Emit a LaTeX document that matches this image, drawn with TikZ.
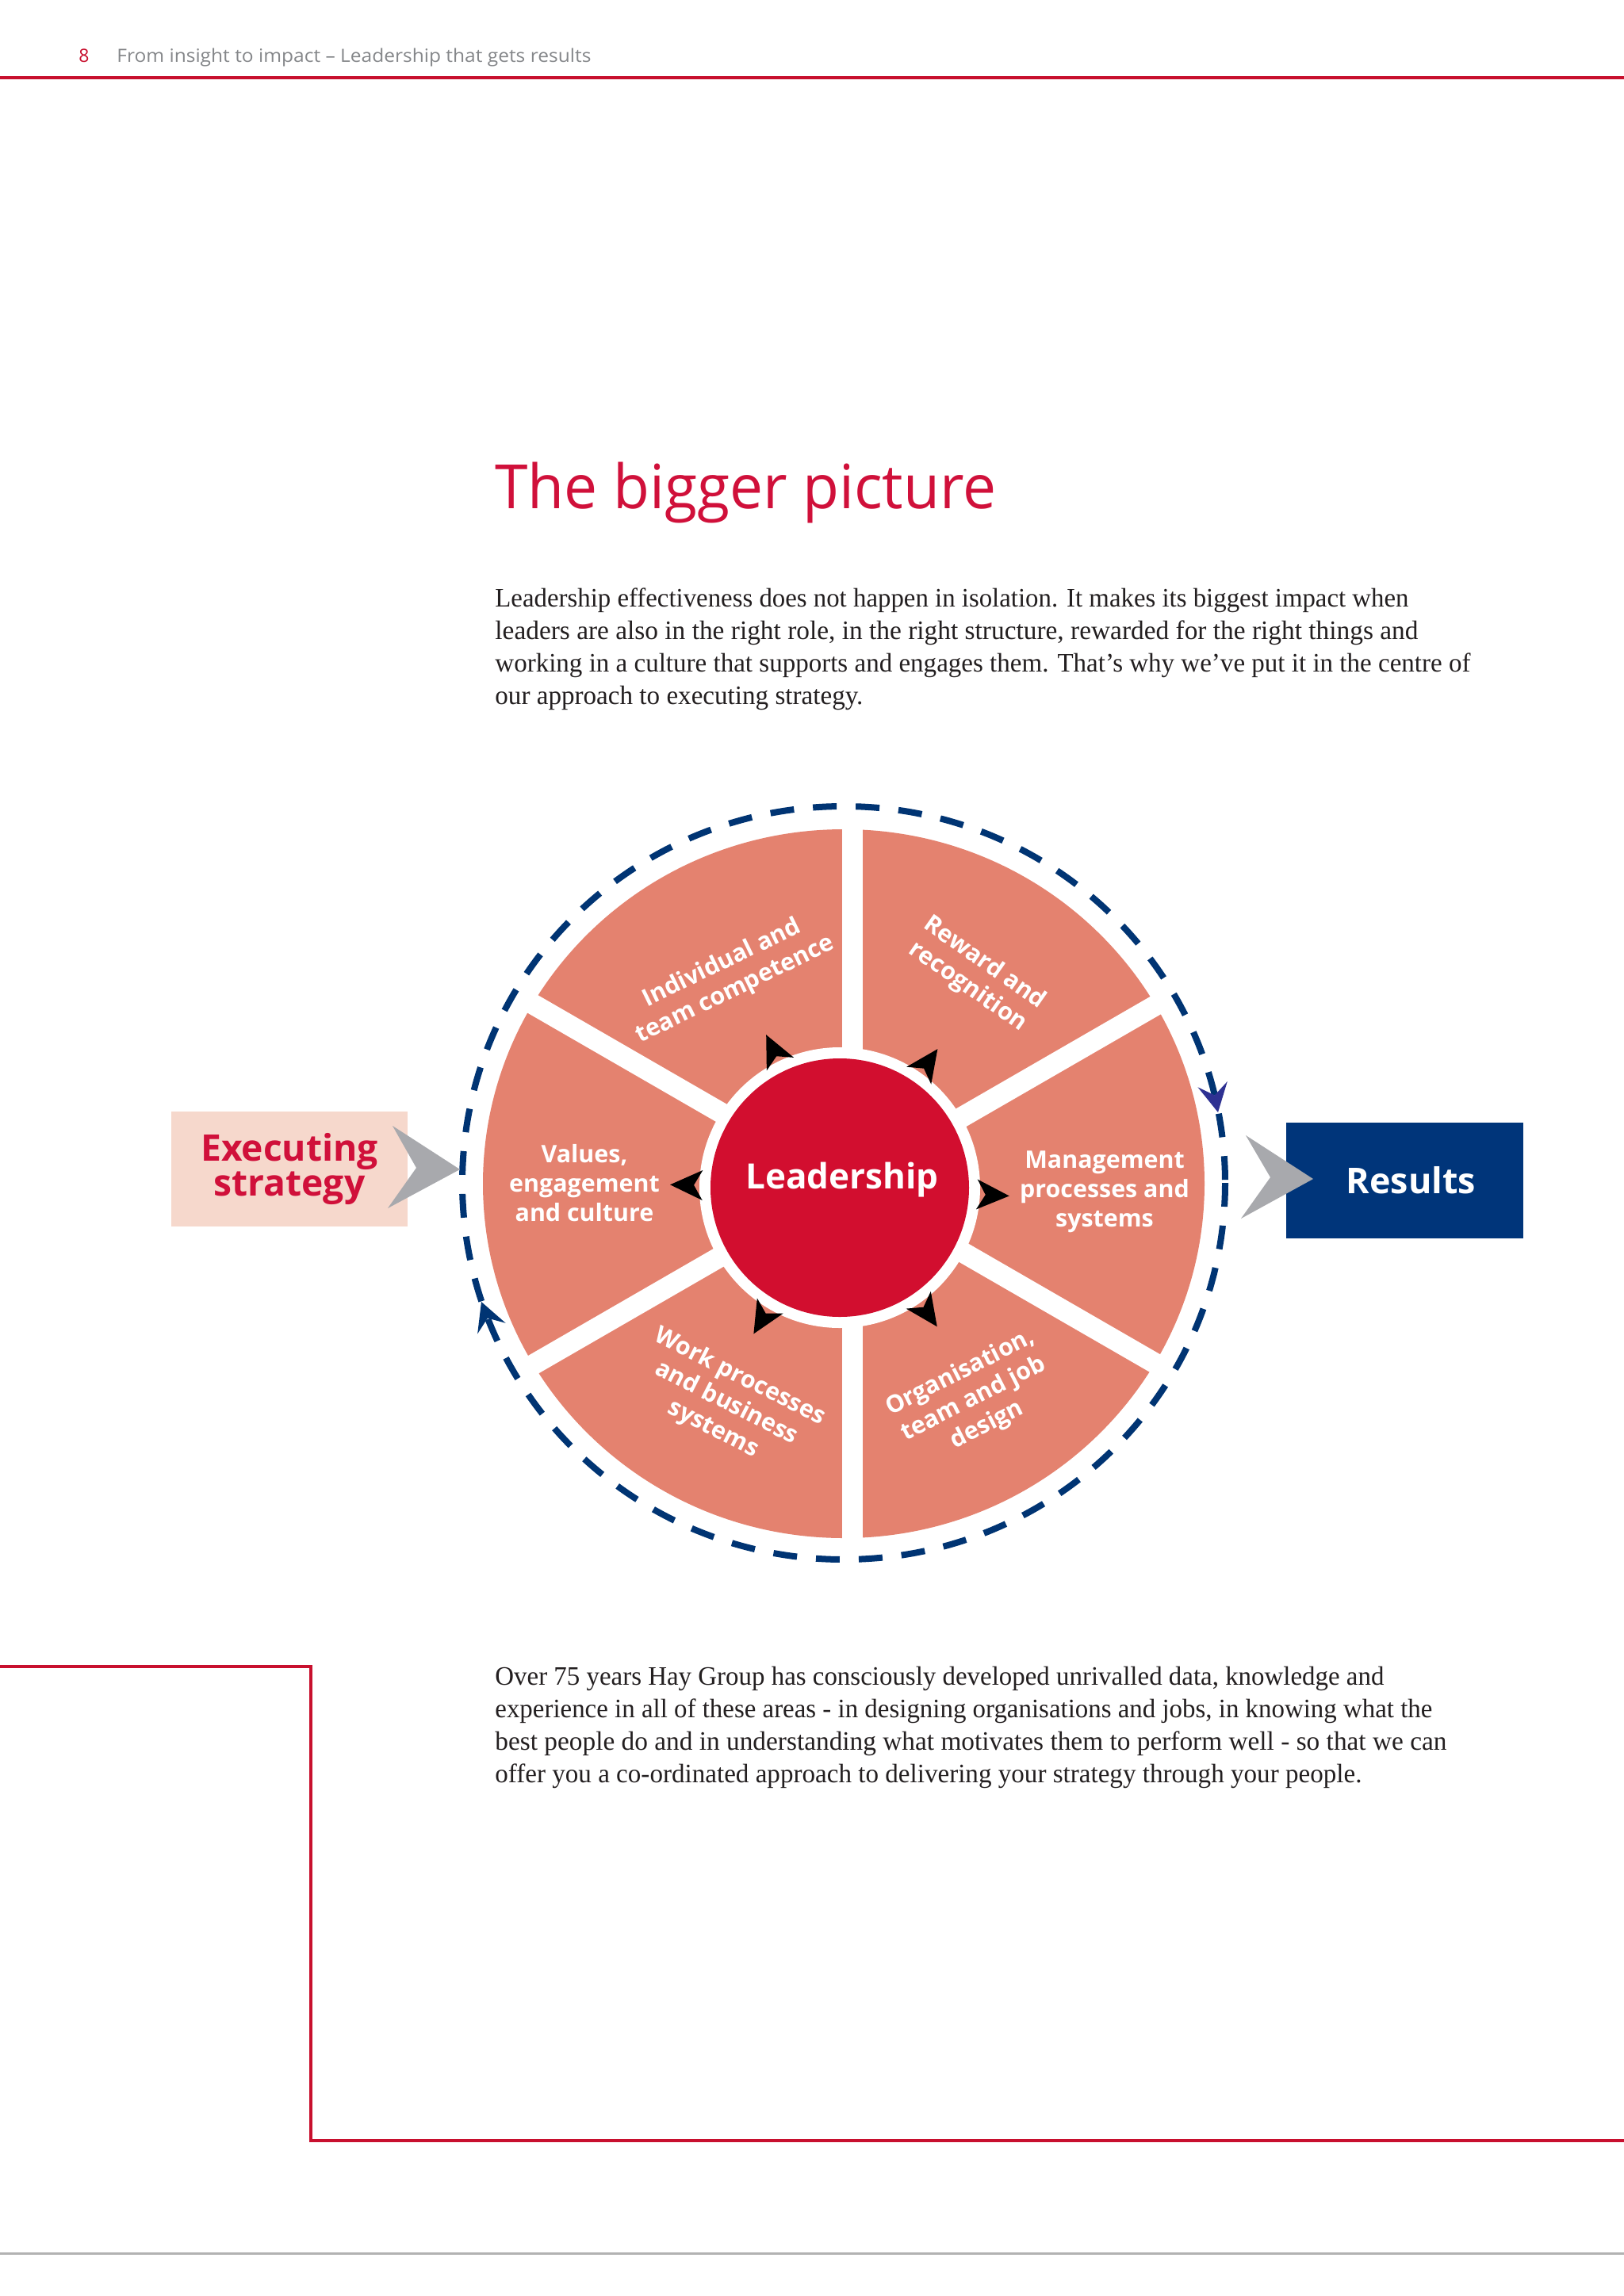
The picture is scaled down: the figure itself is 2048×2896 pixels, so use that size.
\documentclass[tikz,border=0pt]{standalone}
\usepackage{fontspec}
\usepackage{graphicx}
\setmainfont{Liberation Serif}
\newfontfamily\sansf{Open Sans}
\usetikzlibrary{calc}
\definecolor{hayred}{HTML}{C8102E}
\definecolor{titlered}{HTML}{D0103A}
\definecolor{leadred}{HTML}{D20E2F}
\definecolor{wheelsalmon}{HTML}{E4826F}
\definecolor{ringnavy}{HTML}{003473}
\definecolor{resultsblue}{HTML}{00357A}
\definecolor{peach}{HTML}{F6D8CC}
\definecolor{chevgray}{HTML}{A8A9AD}
\definecolor{ringpurple}{HTML}{2E3192}
\definecolor{bodytext}{HTML}{231F20}
\definecolor{headgray}{HTML}{85878A}
\begin{document}
\begin{tikzpicture}[x=0.5pt,y=-0.5pt,
  bodyline/.style={anchor=base west, inner sep=0pt, text=bodytext, font=\fontsize{16.8}{20}\selectfont},
  sectortext/.style={align=center, inner sep=0pt, text=white, font=\sansf\bfseries\fontsize{15.2}{18.5}\selectfont},
  leadtip/.pic={\fill (0,0) -- (-41,19) -- (-30,0) -- (-41,-19) -- cycle;},
  ringtip/.pic={\fill (0,0) -- (-36,19) -- (-22,0) -- (-36,-19) -- cycle;}
]
\useasboundingbox (0,0) rectangle (2048,2896);
\fill[white] (0,0) rectangle (2048,2896);

% header
\node[anchor=base west, inner sep=0pt, text=hayred, font=\sansf\fontsize{11.5}{13}\selectfont] (pagenum) at (99,78) {8};
\node[anchor=base west, inner sep=0pt, text=headgray, font=\sansf\fontsize{11.5}{13}\selectfont] (headtext) at (147,78) {\resizebox{299pt}{\height}{From insight to impact – Leadership that gets results}};
\draw[hayred, line width=2pt] (0,98) -- (2048,98);

% title
\node[anchor=base west, inner sep=0pt, text=titlered, font=\sansf\fontsize{38.5}{46}\selectfont] (title) at (624,641) {\resizebox{316pt}{\height}{The bigger picture}};

% paragraph 1
\node[bodyline] (pa1) at (624,765) {\resizebox{576pt}{\height}{Leadership effectiveness does not happen in isolation. It makes its biggest impact when}};
\node[bodyline] (pa2) at (624,806) {\resizebox{582pt}{\height}{leaders are also in the right role, in the right structure, rewarded for the right things and}};
\node[bodyline] (pa3) at (624,847) {\resizebox{615pt}{\height}{working in a culture that supports and engages them. That’s why we’ve put it in the centre of}};
\node[bodyline] (pa4) at (624,888) {\resizebox{232pt}{\height}{our approach to executing strategy.}};

% wheel
\fill[wheelsalmon] (1064,1493) ellipse [x radius=455, y radius=447];
\draw[white, line width=13pt] (1075,1020) -- (1075,1970);
\draw[white, line width=13pt] (1473,1259) -- (659,1729);
\draw[white, line width=13pt] (659,1259) -- (1473,1729);
\fill[white] (1059,1498) circle (177);
\node[circle, fill=leadred, minimum size=163pt, inner sep=0pt] (lead) at (1059,1498) {};
\node[anchor=base, inner sep=0pt, text=white, font=\sansf\bfseries\fontsize{22}{26}\selectfont] (leadtext) at (1062,1499) {Leadership};

\foreach \a in {115.7,54.8,-2.8,179,239.5,305}
  \pic[rotate=\a, color=black] at ({1059+214*cos(\a)},{1498-214*sin(\a)}) {leadtip};

% dashed ring
\draw[ringnavy, line width=4pt, dash pattern=on 15pt off 12pt] (1064,1492) ellipse [x radius=481, y radius=475];
\pic[rotate=-79, color=ringpurple] at (1536,1403) {ringtip};
\pic[rotate=111, color=ringnavy] at (607,1642) {ringtip};

% sector texts
\node[sectortext] (values) at (737,1492) {Values,\\engagement\\and culture};
\node[sectortext] (mgmt) at (1393,1503) {Management\\processes and\\systems};
\node[sectortext, rotate=26] (indiv) at (919,1232) {Individual and\\team competence};
\node[sectortext, rotate=-35] (reward) at (1231,1230) {Reward and\\recognition};
\node[sectortext, rotate=-27] (work) at (916,1770) {Work processes\\and business\\systems};
\node[sectortext, rotate=27] (org) at (1228,1765) {Organisation,\\team and job\\design};

% side boxes
\node[fill=peach, minimum width=149pt, minimum height=72.5pt, inner sep=0pt, align=center, text=titlered, font=\sansf\bfseries\fontsize{23.1}{19.5}\selectfont] (exec) at (365,1474.5) {Executing\\strategy};
\node[fill=resultsblue, minimum width=149.5pt, minimum height=73pt, inner sep=0pt, text=white, font=\sansf\bfseries\fontsize{22.4}{26}\selectfont] (results) at (1771.5,1489) {\hspace{8pt}Results};

% chevrons
\fill[chevgray] (495,1420) -- (580,1475) -- (489,1524) -- (525,1473) -- cycle;
\fill[chevgray] (1571,1432) -- (1656,1487) -- (1565,1537) -- (1602,1485) -- cycle;

% paragraph 2
\node[bodyline] (pb1) at (624,2125) {\resizebox{560.5pt}{\height}{Over 75 years Hay Group has consciously developed unrivalled data, knowledge and}};
\node[bodyline] (pb2) at (624,2166) {\resizebox{591pt}{\height}{experience in all of these areas - in designing organisations and jobs, in knowing what the}};
\node[bodyline] (pb3) at (624,2207) {\resizebox{600pt}{\height}{best people do and in understanding what motivates them to perform well - so that we can}};
\node[bodyline] (pb4) at (624,2248) {\resizebox{546.5pt}{\height}{offer you a co-ordinated approach to delivering your strategy through your people.}};

% rules
\draw[hayred, line width=1.8pt] (0,2102) -- (392,2102) -- (392,2700) -- (2048,2700);
\draw[gray!60, line width=1.5pt] (0,2842) -- (2048,2842);
\end{tikzpicture}
\end{document}
